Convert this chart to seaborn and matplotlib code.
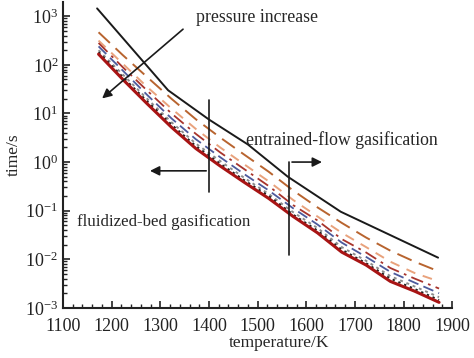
import numpy as np
import pandas as pd
import matplotlib
matplotlib.use("Agg")
import matplotlib.pyplot as plt
from matplotlib.ticker import MultipleLocator, LogLocator, NullFormatter, FixedLocator
import seaborn as sns

# ---- data ----
T_black = [1170, 1316, 1400, 1480, 1562, 1671, 1871]
t_black = [1450, 30, 7.5, 2.3, 0.5, 0.095, 0.0108]

T = [1173, 1223, 1273, 1323, 1373, 1423, 1473, 1523, 1573, 1623, 1673, 1723, 1773, 1823, 1873]
t_brown = [468, 158, 56, 20, 7.6, 3.2, 1.41, 0.63, 0.26, 0.117, 0.056, 0.028, 0.015, 0.0089, 0.0056]
t_salmon = [316, 105, 35, 12.6, 4.8, 2.0, 0.89, 0.40, 0.166, 0.076, 0.035, 0.0178, 0.0089, 0.0052, 0.0035]
t_darkred = [282, 89, 29.5, 10, 3.8, 1.58, 0.71, 0.32, 0.13, 0.063, 0.026, 0.0138, 0.0066, 0.0040, 0.0025]
t_blue = [240, 76, 24, 7.9, 2.95, 1.26, 0.56, 0.26, 0.112, 0.052, 0.022, 0.0112, 0.0055, 0.0033, 0.0020]
t_grey = [200, 63, 20, 6.6, 2.4, 1.05, 0.47, 0.22, 0.093, 0.044, 0.0178, 0.0093, 0.0045, 0.00275, 0.00166]
t_kdot = [182, 56, 17.8, 5.9, 2.14, 0.93, 0.42, 0.20, 0.083, 0.039, 0.0158, 0.0083, 0.0040, 0.00245, 0.00145]
t_red = [166, 50, 15.8, 5.2, 1.9, 0.83, 0.38, 0.178, 0.076, 0.035, 0.014, 0.0076, 0.0035, 0.0022, 0.0013]

y_ticks = [1e-3, 1e-2, 1e-1, 1e0, 1e1, 1e2, 1e3]

series = [
    ("brown", t_brown, "#b8642f", (8, 4), 1.4),
    ("salmon", t_salmon, "#e9a27c", (5, 4), 1.4),
    ("darkred", t_darkred, "#a8342c", (7, 3, 1.5, 3), 1.3),
    ("blue", t_blue, "#4c5a9c", (6, 3), 1.3),
    ("grey", t_grey, "#8c8c8c", (1.5, 2), 1.4),
    ("kdot", t_kdot, "#222222", (1.2, 2), 1.4),
    ("red", t_red, "#a81414", None, 2.2),
]

sns.set_style("ticks")
plt.rcParams['font.family'] = ['Liberation Serif', 'DejaVu Serif']
plt.rcParams['mathtext.fontset'] = 'custom'
plt.rcParams['mathtext.rm'] = 'Liberation Serif'
plt.rcParams['mathtext.it'] = 'Liberation Serif:italic'

fig = plt.figure(figsize=(4.74, 3.58), dpi=100)
ax = fig.add_axes([0.133, 0.14, 0.821, 0.854])

for name, vals, col, dash, lw in series:
    df = pd.DataFrame({"T": T, "t": vals})
    sns.lineplot(data=df, x="T", y="t", ax=ax, color=col, lw=lw)
    ln = ax.get_lines()[-1]
    if dash is not None:
        ln.set_dashes(dash)

dfb = pd.DataFrame({"T": T_black, "t": t_black})
sns.lineplot(data=dfb, x="T", y="t", ax=ax, color="#1a1a1a", lw=1.4)

ax.set_yscale("log")
ax.set_xlim(1100, 1900)
ax.set_ylim(1e-3, 1.95e3)
ax.xaxis.set_major_locator(MultipleLocator(100))
ax.xaxis.set_minor_locator(MultipleLocator(20))
ax.yaxis.set_major_locator(FixedLocator(y_ticks))
ax.yaxis.set_minor_locator(LogLocator(base=10, subs=np.arange(2, 10), numticks=100))
ax.yaxis.set_minor_formatter(NullFormatter())
ax.tick_params(which="both", direction="in", colors="#222222", labelsize=13)
ax.tick_params(which="major", length=5, width=1.2)
ax.tick_params(axis="x", which="major", pad=7)
ax.tick_params(which="minor", length=3, width=1.0)
sns.despine(ax=ax)
for s in ["left", "bottom"]:
    ax.spines[s].set_linewidth(1.5)
    ax.spines[s].set_color("#222222")

ax.set_xlabel("temperature/K", fontsize=12.5)
ax.xaxis.set_label_coords(0.555, -0.09)
ax.set_ylabel("time/s", fontsize=12.5, labelpad=2)

# annotations
arrow_kw = dict(arrowstyle="-|>", color="#1a1a1a", lw=1.2, mutation_scale=14)
ax.annotate("", xy=(1176, 18.7), xytext=(1351, 590), arrowprops=arrow_kw)
ax.text(1374, 950, "pressure increase", fontsize=12.8, va="center", ha="left")

ax.plot([1400, 1400], [0.245, 18.6], color="#1a1a1a", lw=1.2)
ax.annotate("", xy=(1273, 0.66), xytext=(1400, 0.66), arrowprops=arrow_kw)

ax.plot([1565, 1565], [0.0123, 1.0], color="#1a1a1a", lw=1.2)
ax.annotate("", xy=(1638, 1.0), xytext=(1565, 1.0), arrowprops=arrow_kw)
ax.text(1477, 2.8, "entrained-flow gasification", fontsize=12.8, va="center", ha="left")
ax.text(1128, 0.059, "fluidized-bed gasification", fontsize=12.2, va="center", ha="left")

fig.savefig("out.png", dpi=100)
